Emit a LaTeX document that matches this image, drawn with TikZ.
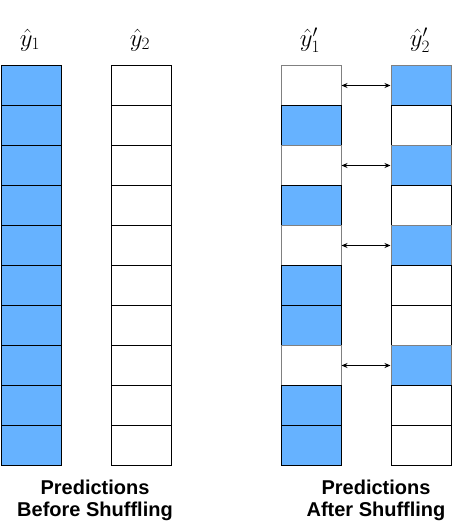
\documentclass[tikz,border=0pt]{standalone}
\usepackage{fontspec}
\setsansfont{Liberation Sans}
\usetikzlibrary{arrows.meta}
\definecolor{cellblue}{HTML}{66B2FF}
\definecolor{cellgrey}{HTML}{808080}
\begin{document}
\begin{tikzpicture}[x=1pt,y=-1pt,
  cell/.style={draw=black,line width=1pt,minimum width=60pt,minimum height=40pt,inner sep=0pt,anchor=north west},
  bluecell/.style={cell,fill=cellblue},
  whitecell/.style={cell,fill=white},
  movedcell/.style={draw=cellgrey},
  head/.style={font=\fontsize{26}{30}\selectfont},
  caption/.style={font=\sffamily\bfseries\fontsize{20}{22}\selectfont,align=center},
  swap/.style={{Stealth[length=6pt,width=5pt]}-{Stealth[length=6pt,width=5pt]},line width=0.8pt}]
\useasboundingbox (0,0) rectangle (451,524);
% column 1 and 2
\foreach \i in {1,...,10}{
  \node[bluecell] (a\i) at (0.5,{25+40*\i}) {};
  \node[whitecell] (b\i) at (110.5,{25+40*\i}) {};
}
% column 3 and 4
\node[whitecell,movedcell] (c1) at (280.5,65) {};
\node[bluecell] (c2) at (280.5,105) {};
\node[whitecell,movedcell] (c3) at (280.5,145) {};
\node[bluecell] (c4) at (280.5,185) {};
\node[whitecell,movedcell] (c5) at (280.5,225) {};
\node[bluecell] (c6) at (280.5,265) {};
\node[bluecell] (c7) at (280.5,305) {};
\node[whitecell,movedcell] (c8) at (280.5,345) {};
\node[bluecell] (c9) at (280.5,385) {};
\node[bluecell] (c10) at (280.5,425) {};
\node[bluecell,movedcell] (d1) at (390.5,65) {};
\node[whitecell] (d2) at (390.5,105) {};
\node[bluecell,movedcell] (d3) at (390.5,145) {};
\node[whitecell] (d4) at (390.5,185) {};
\node[bluecell,movedcell] (d5) at (390.5,225) {};
\node[whitecell] (d6) at (390.5,265) {};
\node[whitecell] (d7) at (390.5,305) {};
\node[bluecell,movedcell] (d8) at (390.5,345) {};
\node[whitecell] (d9) at (390.5,385) {};
\node[whitecell] (d10) at (390.5,425) {};
% arrows
\foreach \i in {1,3,5,8}{
  \draw[swap] (c\i.east) -- (d\i.west);
}
% headers
\node[head] (h1) at (30,40) {$\hat{y}_1$};
\node[head] (h2) at (140,40) {$\hat{y}_2$};
\node[head] (h3) at (310,40) {$\hat{y}'_1$};
\node[head] (h4) at (420,40) {$\hat{y}'_2$};
% captions
\node[caption] (cap1) at (95,500) {Predictions\\Before Shuffling};
\node[caption] (cap2) at (376,500) {Predictions\\After Shuffling};
\end{tikzpicture}
\end{document}
